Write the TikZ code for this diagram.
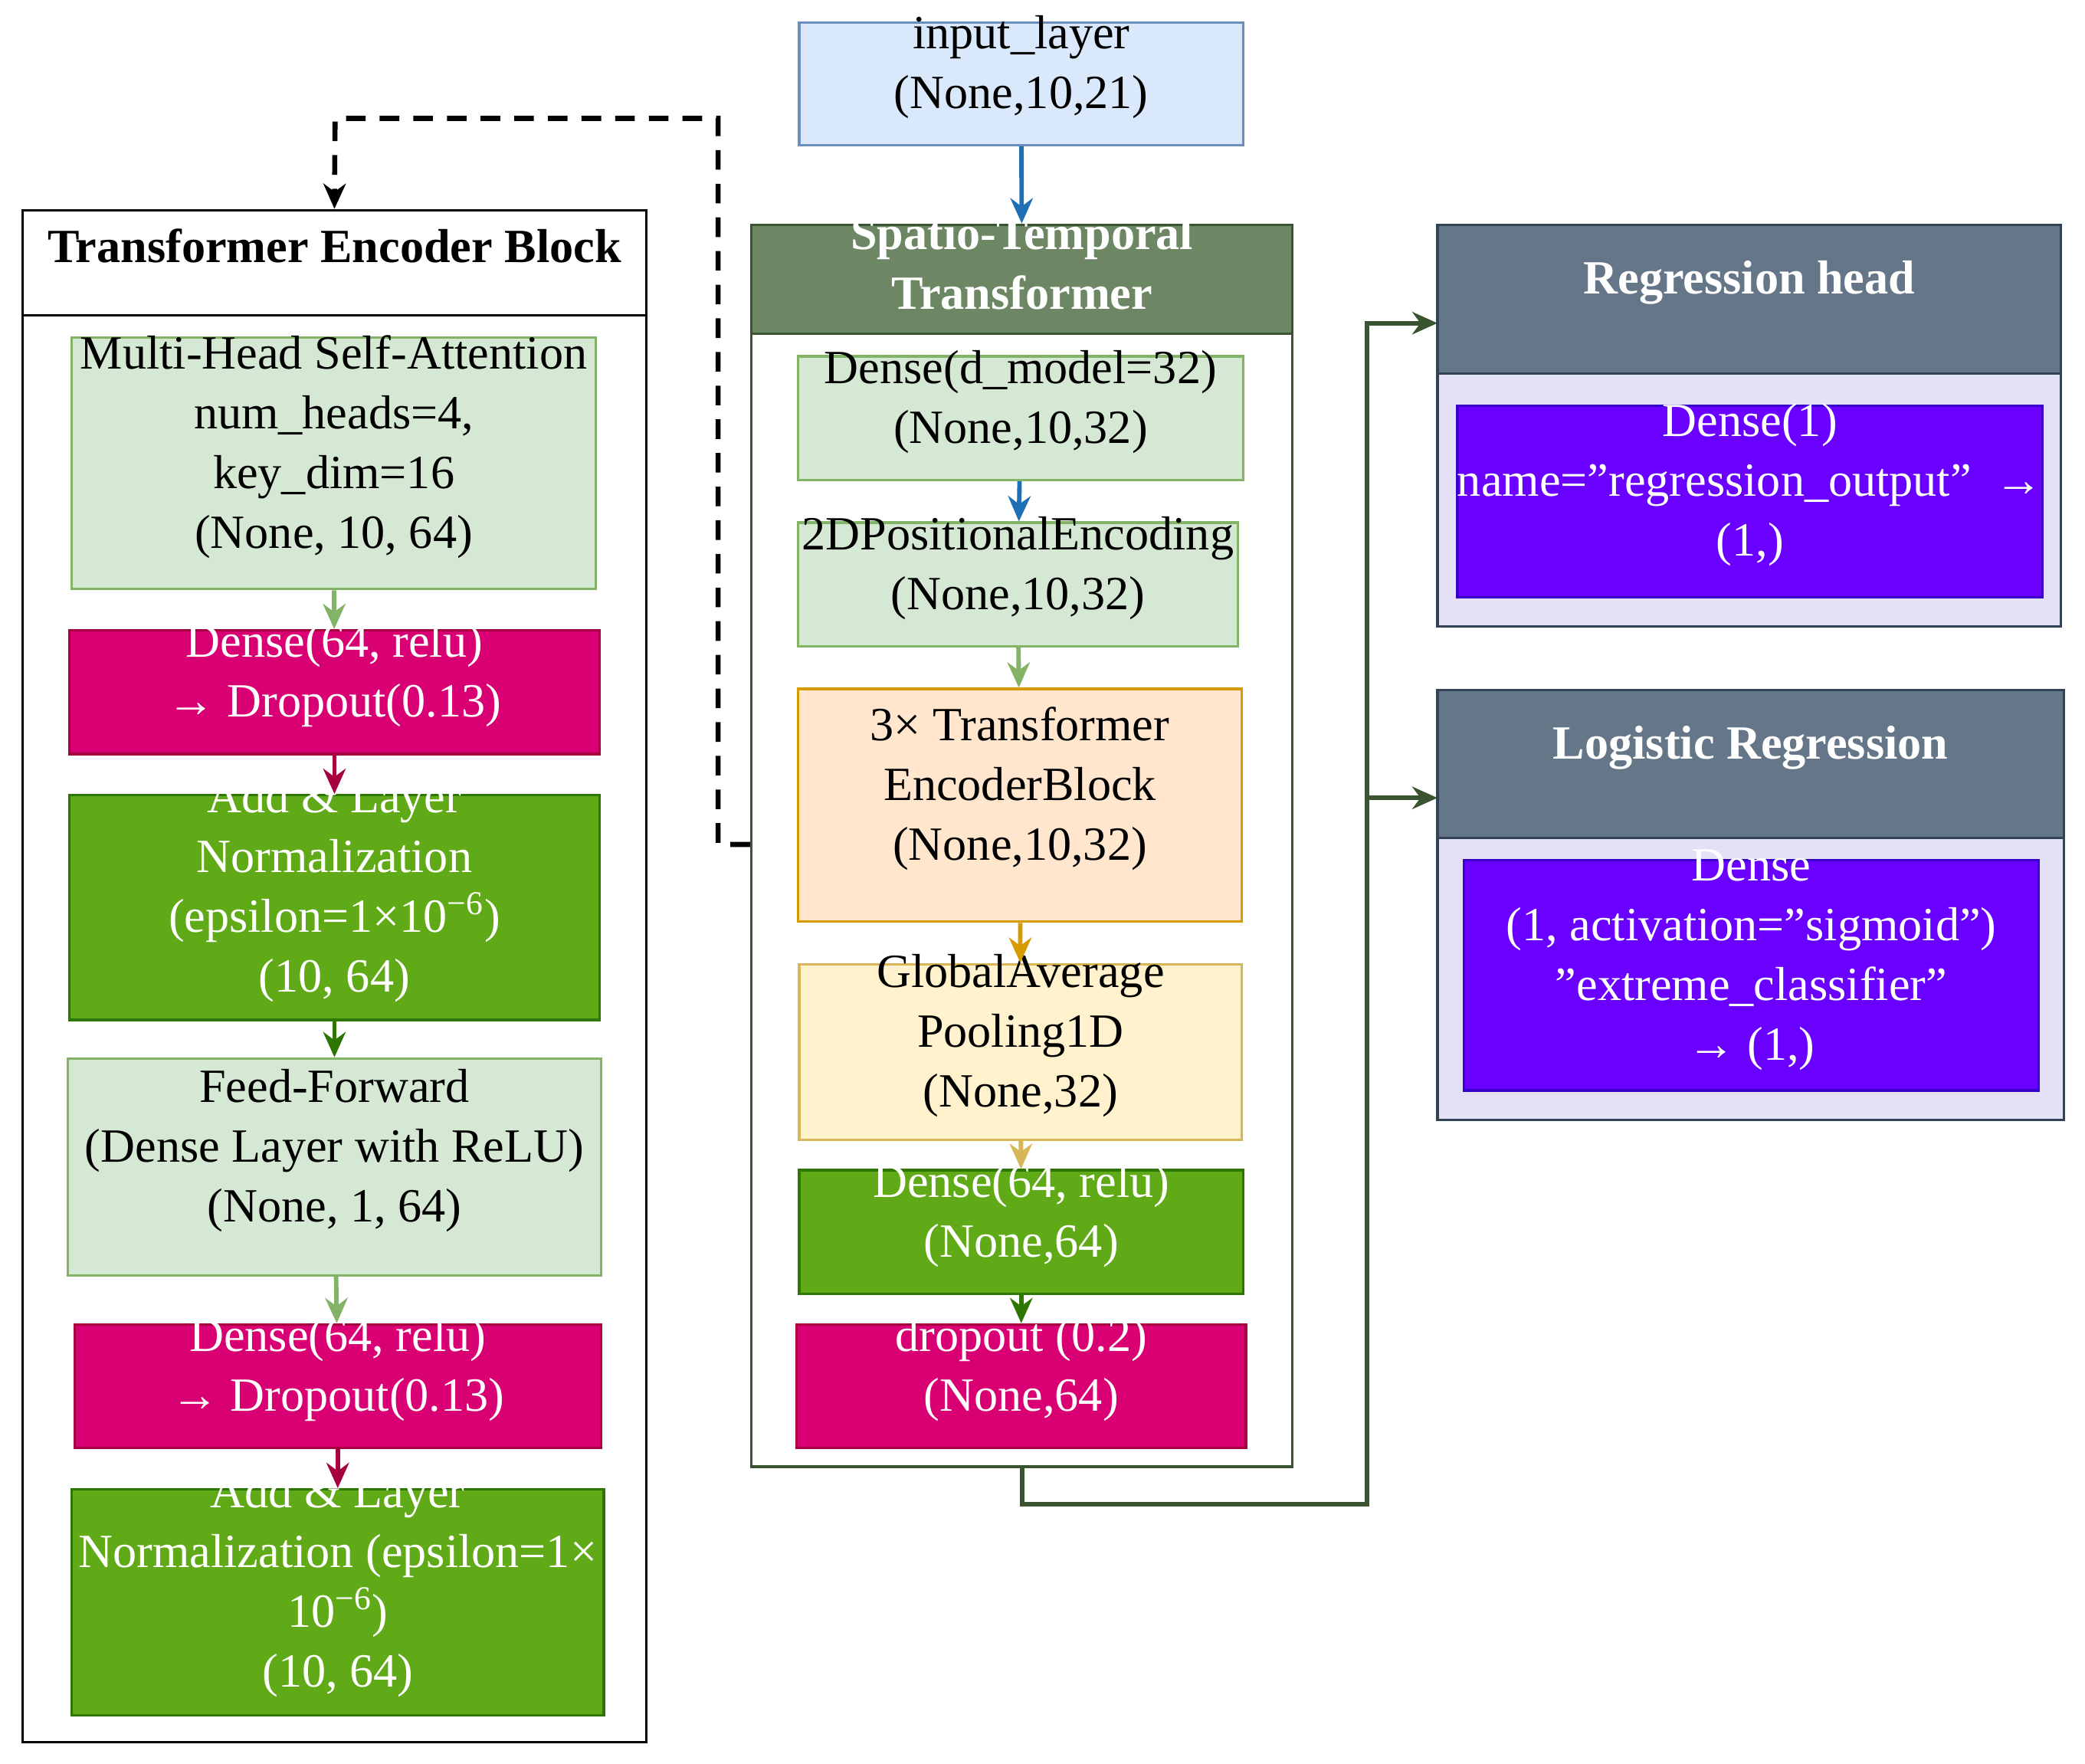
\documentclass[tikz,border=0pt]{standalone}
\usepackage{fontspec}
\setmainfont{Liberation Serif}
\usetikzlibrary{arrows.meta,fit}
\definecolor{inblue}{HTML}{DAE8FC}
\definecolor{inbluel}{HTML}{6C8EBF}
\definecolor{lgreen}{HTML}{D5E8D4}
\definecolor{lgreenl}{HTML}{82B366}
\definecolor{dgreen}{HTML}{60A917}
\definecolor{dgreenl}{HTML}{2D7600}
\definecolor{pinkf}{HTML}{D80073}
\definecolor{pinkl}{HTML}{A50040}
\definecolor{orangef}{HTML}{FFE6CC}
\definecolor{orangel}{HTML}{D79B00}
\definecolor{yellowf}{HTML}{FFF2CC}
\definecolor{yellowl}{HTML}{D6B656}
\definecolor{olivef}{HTML}{6D8764}
\definecolor{olivel}{HTML}{3A5431}
\definecolor{slatef}{HTML}{647687}
\definecolor{slatel}{HTML}{314354}
\definecolor{violetf}{HTML}{6A00FF}
\definecolor{violetl}{HTML}{3700CC}
\definecolor{lavf}{HTML}{E4E0F6}
\definecolor{arrblue}{HTML}{1F6FB5}
\tikzset{
  blk/.style={inner sep=0pt, align=center, line width=0.9pt, font=\fontsize{17}{21.3}\selectfont},
  inbox/.style={blk, fill=inblue, draw=inbluel},
  lgbox/.style={blk, fill=lgreen, draw=lgreenl},
  dgbox/.style={blk, fill=dgreen, draw=dgreenl, text=white},
  pkbox/.style={blk, fill=pinkf, draw=pinkl, text=white},
  orbox/.style={blk, fill=orangef, draw=orangel},
  ylbox/.style={blk, fill=yellowf, draw=yellowl},
  vibox/.style={blk, fill=violetf, draw=violetl, text=white},
  head/.style={blk, text=white, font=\fontsize{17}{21.3}\selectfont\bfseries},
  flow/.style={-{Stealth[length=9pt,width=8pt]}, line width=1.6pt},
}
\begin{document}
\begin{tikzpicture}[x=1cm/60, y=1cm/60]
\useasboundingbox (0,0) rectangle (1568,-1326);

% transformer encoder block
\node[blk, draw=black, fill=white, fit={(17,-158)(486,-1310)}] (teb) {};
\node[blk, draw=black, fit={(17,-158)(486,-237)}, font=\fontsize{17}{21.3}\selectfont\bfseries] (tebh) {Transformer Encoder Block};
\node[lgbox, fit={(54,-254)(448,-443)}] (mhsa) {Multi-Head Self-Attention\\num\_heads=4,\\key\_dim=16\\(None, 10, 64)};
\node[pkbox, fit={(52,-474)(451,-567)}] (dda) {Dense(64, relu)\\→ Dropout(0.13)};
\node[dgbox, fit={(52,-598)(451,-767)}] (ana) {Add \& Layer\\Normalization\\(epsilon=1×10\textsuperscript{−6})\\(10, 64)};
\node[lgbox, fit={(51,-796)(452,-959)}] (ffw) {Feed-Forward\\(Dense Layer with ReLU)\\(None, 1, 64)};
\node[pkbox, fit={(56,-996)(452,-1089)}] (ddb) {Dense(64, relu)\\→ Dropout(0.13)};
\node[dgbox, fit={(54,-1120)(454,-1290)}] (anb) {Add \& Layer\\Normalization (epsilon=1×\\10\textsuperscript{−6})\\(10, 64)};
\draw[flow, lgreenl] (mhsa) -- (dda);
\draw[flow, pinkl] (dda) -- (ana);
\draw[flow, dgreenl] (ana) -- (ffw);
\draw[flow, lgreenl] (ffw) -- (ddb);
\draw[flow, pinkl] (ddb) -- (anb);

% spatio-temporal transformer
\node[inbox, fit={(601,-17)(935,-109)}] (inp) {input\_layer\\(None,10,21)};
\node[blk, draw=olivel, fill=white, fit={(565,-169)(972,-1103)}] (stt) {};
\node[head, fill=olivef, draw=olivel, fit={(565,-169)(972,-251)}] (stth) {Spatio-Temporal\\Transformer};
\node[lgbox, fit={(600,-268)(935,-361)}] (dmod) {Dense(d\_model=32)\\(None,10,32)};
\node[lgbox, fit={(600,-393)(931,-486)}] (pos) {2DPositionalEncoding\\(None,10,32)};
\node[orbox, fit={(600,-518)(934,-693)}] (tenc) {3× Transformer\\EncoderBlock\\(None,10,32)};
\node[ylbox, fit={(601,-725)(934,-857)}] (gap) {GlobalAverage\\Pooling1D\\(None,32)};
\node[dgbox, fit={(601,-880)(935,-973)}] (dns) {Dense(64, relu)\\(None,64)};
\node[pkbox, fit={(599,-996)(937,-1089)}] (drop) {dropout (0.2)\\(None,64)};
\draw[flow, arrblue] (inp) -- (stth);
\draw[flow, arrblue] (dmod) -- (pos);
\draw[flow, lgreenl] (pos) -- (tenc);
\draw[flow, orangel] (tenc) -- (gap);
\draw[flow, yellowl] (gap) -- (dns);
\draw[flow, dgreenl] (dns) -- (drop);

% heads
\node[blk, draw=slatel, fill=lavf, fit={(1081,-169)(1550,-471)}] (reg) {};
\node[head, fill=slatef, draw=slatel, fit={(1081,-169)(1550,-281)}] (regh) {Regression head};
\node[vibox, fit={(1096,-305)(1536,-449)}] (rego) {Dense(1)\\name="regression\_output" \ →\\(1,)};
\node[blk, draw=slatel, fill=lavf, fit={(1081,-519)(1552,-842)}] (log) {};
\node[head, fill=slatef, draw=slatel, fit={(1081,-519)(1552,-630)}] (logh) {Logistic Regression};
\node[vibox, fit={(1101,-647)(1533,-820)}] (logo) {Dense\\(1, activation="sigmoid")\\"extreme\_classifier"\\→ (1,)};

% outputs
\coordinate (split) at (1028,-1131);
\draw[flow, olivel] (stt.south) |- (split) |- (1081,-243);
\draw[flow, olivel] (1028,-600) -- (1081,-600);

% dashed link
\draw[-{Stealth[length=9pt,width=8pt]}, line width=1.8pt, dash pattern=on 7pt off 5pt] (stt.west |- 0,-635) -- (540,-635) |- (252,-89) -- (teb.north);
\end{tikzpicture}
\end{document}
